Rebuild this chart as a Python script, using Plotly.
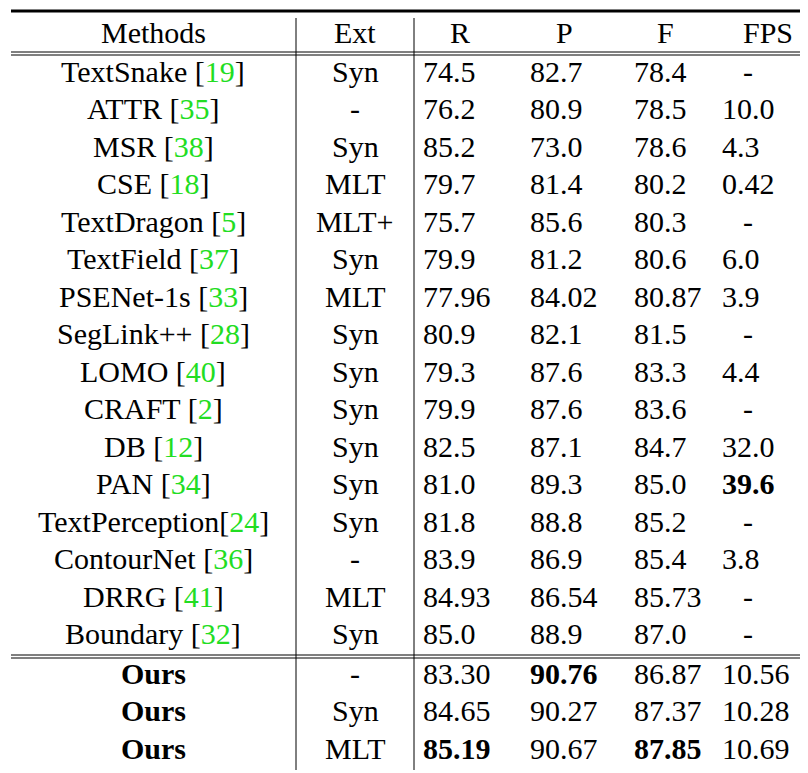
import plotly.graph_objects as go

methods = ["TextSnake", "ATTR", "MSR", "CSE", "TextDragon", "TextField", "PSENet-1s",
           "SegLink++", "LOMO", "CRAFT", "DB", "PAN", "TextPerception", "ContourNet",
           "DRRG", "Boundary", "Ours", "Ours", "Ours"]
refs = ["19", "35", "38", "18", "5", "37", "33", "28", "40", "2", "12", "34", "24", "36",
        "41", "32", "", "", ""]
ext = ["Syn", "-", "Syn", "MLT", "MLT+", "Syn", "MLT", "Syn", "Syn", "Syn", "Syn", "Syn",
       "Syn", "-", "MLT", "Syn", "-", "Syn", "MLT"]
R = ["74.5", "76.2", "85.2", "79.7", "75.7", "79.9", "77.96", "80.9", "79.3", "79.9", "82.5",
     "81.0", "81.8", "83.9", "84.93", "85.0", "83.30", "84.65", "<b>85.19</b>"]
P = ["82.7", "80.9", "73.0", "81.4", "85.6", "81.2", "84.02", "82.1", "87.6", "87.6", "87.1",
     "89.3", "88.8", "86.9", "86.54", "88.9", "<b>90.76</b>", "90.27", "90.67"]
F = ["78.4", "78.5", "78.6", "80.2", "80.3", "80.6", "80.87", "81.5", "83.3", "83.6", "84.7",
     "85.0", "85.2", "85.4", "85.73", "87.0", "86.87", "87.37", "<b>87.85</b>"]
FPS = ["-", "10.0", "4.3", "0.42", "-", "6.0", "3.9", "-", "4.4", "-", "32.0", "<b>39.6</b>",
       "-", "3.8", "-", "-", "10.56", "10.28", "10.69"]
header = ["Methods", "Ext", "R", "P", "F", "FPS"]

FONT = dict(family="Liberation Serif", size=30, color="black")
row_h = 37.5
y_head = 24
y_first = 63


def row_y(i):
    y = y_first + i * row_h
    if i >= 16:
        y += 2
    return y


fig = go.Figure()
ann = []
for x, t in zip([145, 347, 452, 556, 657, 760], header):
    ann.append(dict(x=x, y=y_head, text=t, xanchor="center"))

for i in range(len(methods)):
    y = row_y(i)
    if refs[i]:
        sep = "" if methods[i] == "TextPerception" else " "
        m = f"{methods[i]}{sep}[<span style='color:#22dd22'>{refs[i]}</span>]"
    else:
        m = f"<b>{methods[i]}</b>"
    ann.append(dict(x=145, y=y, text=m, xanchor="center"))
    ann.append(dict(x=347, y=y, text=ext[i], xanchor="center"))
    ann.append(dict(x=413, y=y, text=R[i], xanchor="left"))
    ann.append(dict(x=520, y=y, text=P[i], xanchor="left"))
    ann.append(dict(x=624, y=y, text=F[i], xanchor="left"))
    if FPS[i] == "-":
        ann.append(dict(x=740, y=y, text="-", xanchor="center"))
    else:
        ann.append(dict(x=712, y=y, text=FPS[i], xanchor="left"))

for a in ann:
    a.update(xref="x", yref="y", showarrow=False, yanchor="middle", font=FONT)

shapes = [
    dict(type="line", x0=3, x1=805, y0=3, y1=3, line=dict(color="black", width=3)),
    dict(type="line", x0=3, x1=805, y0=44, y1=44, line=dict(color="black", width=1)),
    dict(type="line", x0=3, x1=805, y0=47, y1=47, line=dict(color="black", width=1)),
    dict(type="line", x0=3, x1=805, y0=647, y1=647, line=dict(color="black", width=1)),
    dict(type="line", x0=3, x1=805, y0=650, y1=650, line=dict(color="black", width=1)),
    dict(type="line", x0=3, x1=805, y0=768, y1=768, line=dict(color="black", width=3)),
    dict(type="line", x0=288, x1=288, y0=10, y1=762, line=dict(color="black", width=1)),
    dict(type="line", x0=406, x1=406, y0=10, y1=762, line=dict(color="black", width=1)),
]
for s in shapes:
    s.update(xref="x", yref="y")

fig.update_layout(
    width=808, height=773, margin=dict(l=0, r=0, t=0, b=0),
    paper_bgcolor="white", plot_bgcolor="white",
    xaxis=dict(range=[0, 808], visible=False, fixedrange=True),
    yaxis=dict(range=[773, 0], visible=False, fixedrange=True),
    annotations=ann, shapes=shapes, showlegend=False,
)
fig.write_html("out.html")
